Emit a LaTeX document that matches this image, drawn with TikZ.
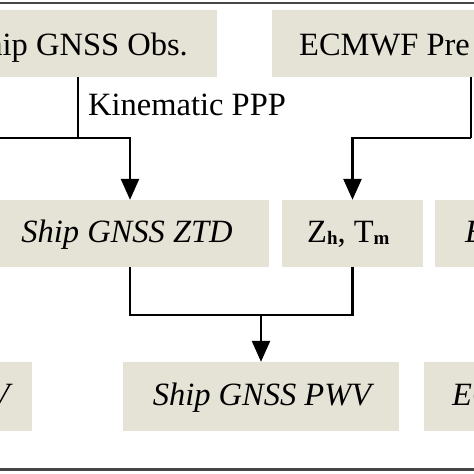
\documentclass[tikz,border=0pt]{standalone}
\usepackage{fontspec}
\setmainfont{Liberation Serif}
\usetikzlibrary{arrows.meta}
\definecolor{boxfill}{RGB}{229,226,214}
\definecolor{rulegray}{RGB}{70,70,70}
\begin{document}
\begin{tikzpicture}[x=1pt,y=-1pt,
  boxnode/.style={fill=boxfill, draw=none, inner sep=0pt, minimum height=67pt},
  txt/.style={font=\fontsize{32.5}{38}\selectfont, inner sep=0pt},
  conn/.style={line width=2.6pt, black},
  arr/.style={conn, -{Triangle[width=18pt,length=21pt]}}]
\useasboundingbox (0,0) rectangle (474,474);
\clip (0,0) rectangle (474,474);
\fill[white] (0,0) rectangle (474,474);
% rules
\coordinate (tl) at (0,3);
\coordinate (tr) at (474,3);
\coordinate (bl) at (0,469);
\coordinate (br) at (474,469);
\draw[line width=1.3pt, rulegray] (tl) -- (tr);
\draw[line width=3pt, rulegray] (bl) -- (br);
% row 1
\node[boxnode, minimum width=278pt] (obs) at (78,43.5) {};
\node[boxnode, minimum width=398pt] (ecm) at (471,43.5) {};
\node[txt, anchor=base east] (obst) at (188,55) {Ship GNSS Obs.};
\node[txt, anchor=base west] (ecmt) at (299,55) {ECMWF Pre};
\node[txt, anchor=base west] (kin) at (88,115) {Kinematic PPP};
% row 2
\node[boxnode, minimum width=278pt] (ztd) at (130,233.5) {};
\node[boxnode, minimum width=141pt] (zh) at (352.5,233.5) {};
\node[boxnode, minimum width=100pt] (e2) at (485,233.5) {};
\node[txt, anchor=base] (ztdt) at (127,242) {\itshape Ship GNSS ZTD};
\node[txt, anchor=base west] (zht) at (307,242) {Z\raisebox{-0.15ex}{\fontsize{19}{19}\selectfont\bfseries h}, T\raisebox{-0.15ex}{\fontsize{19}{19}\selectfont\bfseries m}};
\node[txt, anchor=base west] (e2t) at (465,242) {\itshape E};
% row 3
\node[boxnode, minimum width=278pt, minimum height=69pt] (l3) at (-107,396.5) {};
\node[boxnode, minimum width=276pt, minimum height=69pt] (pwv) at (261,396.5) {};
\node[boxnode, minimum width=100pt, minimum height=69pt] (e3) at (474,396.5) {};
\node[txt, anchor=base east] (l3t) at (10,405) {\itshape V};
\node[txt, anchor=base] (pwvt) at (262,405) {\itshape Ship GNSS PWV};
\node[txt, anchor=base west] (e3t) at (452,405) {\itshape EC};
% connectors
\coordinate (j1) at (78,138);
\coordinate (offl) at (-5,138);
\draw[conn] (obs.south) -- (j1) -- (offl);
\draw[arr] (j1) -| (ztd.north);
\coordinate (j2) at (471,138);
\draw[conn] (ecm.south) -- (j2);
\draw[arr] (j2) -| (zh.north);
\coordinate (j3) at (261,315);
\draw[conn] (ztd.south) |- (j3) -| (zh.south);
\draw[arr] (j3) -- (pwv.north);
\end{tikzpicture}
\end{document}
